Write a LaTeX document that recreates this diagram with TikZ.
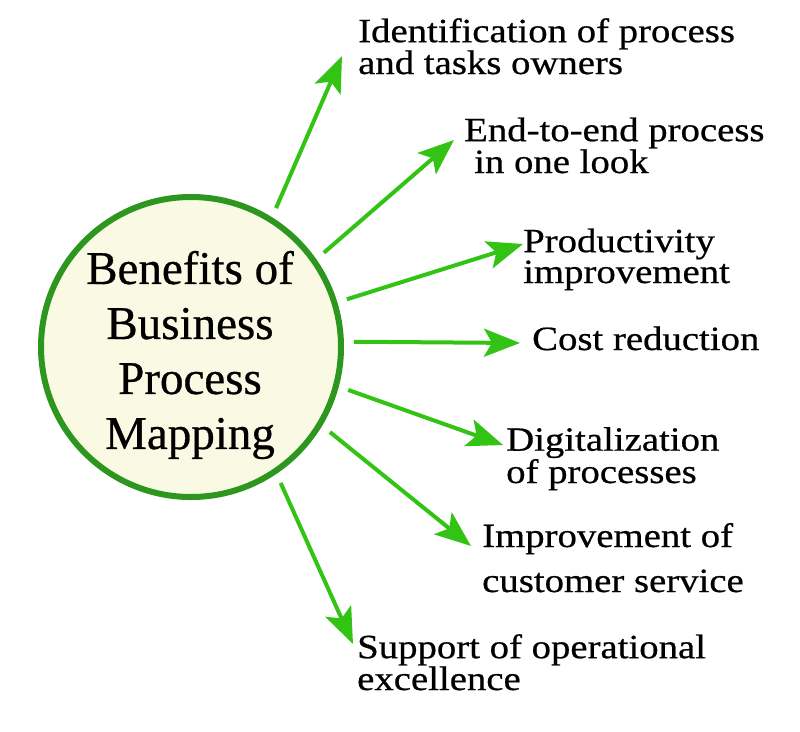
\documentclass[tikz,border=0pt]{standalone}
\usepackage{fontspec}
\setmainfont{Liberation Serif}[FakeBold=0.6]
\newfontfamily\benefitfont[FakeStretch=1.14, FakeBold=0.6]{Liberation Serif}
\usetikzlibrary{arrows.meta}
\definecolor{ringgreen}{RGB}{45,150,30}
\definecolor{arrowgreen}{RGB}{50,195,20}
\definecolor{hubfill}{RGB}{250,250,228}
\tikzset{
	hub/.style={circle, draw=ringgreen, line width=6pt, fill=hubfill, minimum size=300pt, inner sep=0pt},
	hubtext/.style={align=center, inner sep=0pt, font=\fontsize{47}{55}\selectfont},
	benefit/.style={anchor=base west, inner sep=0pt, align=left, font=\benefitfont\fontsize{34}{29}\selectfont},
	link/.style={draw=arrowgreen, line width=4pt, shorten <=10pt, -{Stealth[length=36pt,width=28pt,inset=8pt]}}
}

\begin{document}
\begin{tikzpicture}[x=1pt, y=-1pt]
		%%%%% START %%%%%
		\useasboundingbox (0, 0) rectangle (800, 731);
		
		\node[hub] (hub) at (191, 347) {};
		\node[hubtext] (title) at (190, 355) {Benefits of\\Business\\Process\\Mapping};
		
		% base of each label = its last line
		\node[benefit] (owners) at (358, 74) {Identification of process\\and tasks owners};
		\node[benefit] (endtoend) at (464, 173) {End-to-end process\\\hspace*{10pt}in one look};
		\node[benefit] (productivity) at (523, 283) {Productivity\\improvement};
		\node[benefit] (cost) at (532, 350) {Cost reduction};
		\node[benefit] (digital) at (506, 483) {Digitalization\\of processes};
		\node[benefit, font=\benefitfont\fontsize{34}{45}\selectfont] (service) at (482, 592) {Improvement of\\customer service};
		\node[benefit] (excellence) at (357, 690) {Support of operational\\excellence};
		
		% arrow tips
		\coordinate (t1) at (342, 56);
		\coordinate (t2) at (454, 140);
		\coordinate (t3) at (523, 244);
		\coordinate (t4) at (520, 343);
		\coordinate (t5) at (503, 445);
		\coordinate (t6) at (471, 546);
		\coordinate (t7) at (353, 644);
		
		\draw[link] (hub.58.9) -- (t1);
		\draw[link] (hub.35.5) -- (t2);
		\draw[link] (hub.17.3) -- (t3);
		\draw[link] (hub.2.8) -- (t4);
		\draw[link] (hub.-15.3) -- (t5);
		\draw[link] (hub.-31.1) -- (t6);
		\draw[link] (hub.-56.4) -- (t7);
		
		%%%%% END %%%%%
	\end{tikzpicture}
\end{document}
